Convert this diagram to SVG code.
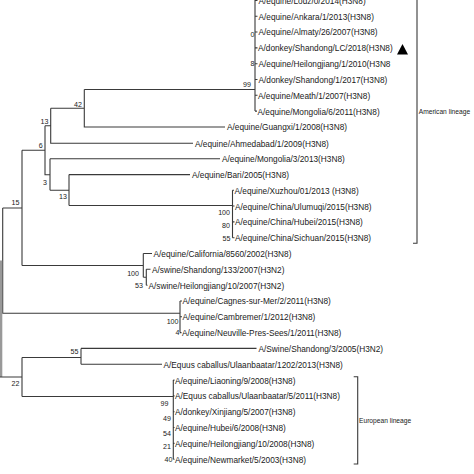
<svg xmlns="http://www.w3.org/2000/svg" width="474" height="474" viewBox="0 0 474 474">
<style>
.e{stroke:#3a3a3a;stroke-width:1.1;fill:none}
.t{font-family:"Liberation Sans",Arial,sans-serif;font-size:9.3px;fill:#1a1a1a}
.n{font-family:"Liberation Sans",Arial,sans-serif;font-size:8px;fill:#222;text-anchor:end}
.b{font-family:"Liberation Sans",Arial,sans-serif;font-size:7.5px;fill:#222}
</style>
<rect width="474" height="474" fill="#fff"/>
<g id="connectors">
<path class="e" d="M255,-1V111.1M255,0.4H257.5M255,16.2H257.5M255,32H257.5M255,47.9H257.5M255,63.7H257.5M255,79.5H257.5M255,95.3H257.5M255,111.1H257"/>
<path class="e" d="M84.3,89.5H255M84.3,89.5V127H225M50.7,108.3H84.3M50.7,108.3V143.3H193M45,125.8H50.7M45,125.8V174.7H50"/>
<path class="e" d="M50,158.8V190.2M50,158.8H220M50,190.2H69M69,174.6V205.5M69,174.6H190M69,205.5H232.5M232.5,190.2V237.7M232.5,190.2H234M232.5,206H234.5M232.5,221.9H234.5M232.5,237.7H234.5"/>
<path class="e" d="M22,150.3H45M22,150.3V265.5M2.7,208H22M22,265.5H143.3M143.3,253.5V277.2M143.3,253.5H152M143.3,277.2H146.3M146.3,269.3V285.2M146.3,269.3H150.5M146.3,285.2H147.5"/>
<path class="e" d="M2.7,208V313.2H180M180,301V332.6M180,301H182M180,316.8H182M180,332.6H181.5"/>
<rect x="0" y="260.5" width="2.3" height="116.5" fill="#999"/>
<path class="e" d="M0,377H22M22,357.5V396.5M22,357.5H81M81,348.4V364.3M81,348.4H256.5M81,364.3H162M22,396.5H173.3M173.3,380.1V459.2M173.3,380.1H174.5M173.3,395.9H174.5M173.3,411.7H174.5M173.3,427.5H174.5M173.3,443.4H174.5M173.3,459.2H174.5"/>
<path class="e" d="M417,-1V243.3H413M353.7,376.7H357.7V464H353.7"/>
</g>
<g id="marker-triangle"><polygon points="402.5,44 397,54.5 408,54.5" fill="#000"/></g>
<g id="leaf-lodz" transform="translate(258.5,3.8) scale(0.89,1)"><text class="t">A/equine/Lodz/0/2014(H3N8)</text></g>
<g id="leaf-ankara" transform="translate(258.5,19.6) scale(0.89,1)"><text class="t">A/equine/Ankara/1/2013(H3N8)</text></g>
<g id="leaf-almaty" transform="translate(258.5,35.4) scale(0.89,1)"><text class="t">A/equine/Almaty/26/2007(H3N8)</text></g>
<g id="leaf-donkey-lc" transform="translate(258,51.3) scale(0.89,1)"><text class="t">A/donkey/Shandong/LC/2018(H3N8)</text></g>
<g id="leaf-heilongjiang-2010" transform="translate(258.5,67.1) scale(0.89,1)"><text class="t">A/equine/Heilongjiang/1/2010(H3N8</text></g>
<g id="leaf-donkey-2017" transform="translate(258.5,82.9) scale(0.89,1)"><text class="t">A/donkey/Shandong/1/2017(H3N8)</text></g>
<g id="leaf-meath" transform="translate(258,98.7) scale(0.89,1)"><text class="t">A/equine/Meath/1/2007(H3N8)</text></g>
<g id="leaf-mongolia-6" transform="translate(257.5,114.5) scale(0.89,1)"><text class="t">A/equine/Mongolia/6/2011(H3N8)</text></g>
<g id="leaf-guangxi" transform="translate(227,130.4) scale(0.89,1)"><text class="t">A/equine/Guangxi/1/2008(H3N8)</text></g>
<g id="leaf-ahmedabad" transform="translate(195,146.6) scale(0.89,1)"><text class="t">A/equine/Ahmedabad/1/2009(H3N8)</text></g>
<g id="leaf-mongolia-3" transform="translate(222,162.2) scale(0.89,1)"><text class="t">A/equine/Mongolia/3/2013(H3N8)</text></g>
<g id="leaf-bari" transform="translate(192,178) scale(0.89,1)"><text class="t">A/equine/Bari/2005(H3N8)</text></g>
<g id="leaf-xuzhou" transform="translate(234.5,193.6) scale(0.89,1)"><text class="t">A/equine/Xuzhou/01/2013 (H3N8)</text></g>
<g id="leaf-ulumuqi" transform="translate(235,209.5) scale(0.89,1)"><text class="t">A/equine/China/Ulumuqi/2015(H3N8)</text></g>
<g id="leaf-hubei-2015" transform="translate(235,225.3) scale(0.89,1)"><text class="t">A/equine/China/Hubei/2015(H3N8)</text></g>
<g id="leaf-sichuan" transform="translate(235,241.1) scale(0.89,1)"><text class="t">A/equine/China/Sichuan/2015(H3N8)</text></g>
<g id="leaf-california" transform="translate(153.5,256.9) scale(0.89,1)"><text class="t">A/equine/California/8560/2002(H3N8)</text></g>
<g id="leaf-swine-shandong-133" transform="translate(152,272.7) scale(0.89,1)"><text class="t">A/swine/Shandong/133/2007(H3N2)</text></g>
<g id="leaf-swine-heilongjiang" transform="translate(148.5,288.6) scale(0.89,1)"><text class="t">A/swine/Heilongjiang/10/2007(H3N2)</text></g>
<g id="leaf-cagnes" transform="translate(182.5,304.4) scale(0.89,1)"><text class="t">A/equine/Cagnes-sur-Mer/2/2011(H3N8)</text></g>
<g id="leaf-cambremer" transform="translate(182.5,320.2) scale(0.89,1)"><text class="t">A/equine/Cambremer/1/2012(H3N8)</text></g>
<g id="leaf-neuville" transform="translate(182,336) scale(0.89,1)"><text class="t">A/equine/Neuville-Pres-Sees/1/2011(H3N8)</text></g>
<g id="leaf-swine-shandong-3" transform="translate(258.5,351.8) scale(0.89,1)"><text class="t">A/Swine/Shandong/3/2005(H3N2)</text></g>
<g id="leaf-ulaanbaatar-1202" transform="translate(163.5,367.7) scale(0.89,1)"><text class="t">A/Equus caballus/Ulaanbaatar/1202/2013(H3N8)</text></g>
<g id="leaf-liaoning" transform="translate(175,383.5) scale(0.89,1)"><text class="t">A/equine/Liaoning/9/2008(H3N8)</text></g>
<g id="leaf-ulaanbaatar-5" transform="translate(175,399.3) scale(0.89,1)"><text class="t">A/Equus caballus/Ulaanbaatar/5/2011(H3N8)</text></g>
<g id="leaf-xinjiang" transform="translate(175,415.1) scale(0.89,1)"><text class="t">A/donkey/Xinjiang/5/2007(H3N8)</text></g>
<g id="leaf-hubei-6" transform="translate(175,430.9) scale(0.89,1)"><text class="t">A/equine/Hubei/6/2008(H3N8)</text></g>
<g id="leaf-heilongjiang-2008" transform="translate(175,446.8) scale(0.89,1)"><text class="t">A/equine/Heilongjiang/10/2008(H3N8)</text></g>
<g id="leaf-newmarket" transform="translate(175,462.6) scale(0.89,1)"><text class="t">A/equine/Newmarket/5/2003(H3N8)</text></g>
<g id="node-0" transform="translate(254.5,36.8) scale(0.89,1)"><text class="n">0</text></g>
<g id="node-8" transform="translate(254.5,65.5) scale(0.89,1)"><text class="n">8</text></g>
<g id="node-99a" transform="translate(251,87.3) scale(0.89,1)"><text class="n">99</text></g>
<g id="node-42" transform="translate(82,106.5) scale(0.89,1)"><text class="n">42</text></g>
<g id="node-13a" transform="translate(48.5,124) scale(0.89,1)"><text class="n">13</text></g>
<g id="node-6" transform="translate(42.7,147.7) scale(0.89,1)"><text class="n">6</text></g>
<g id="node-3" transform="translate(47,185) scale(0.89,1)"><text class="n">3</text></g>
<g id="node-13b" transform="translate(67,199) scale(0.89,1)"><text class="n">13</text></g>
<g id="node-15" transform="translate(19.5,205) scale(0.89,1)"><text class="n">15</text></g>
<g id="node-100a" transform="translate(230,214.5) scale(0.89,1)"><text class="n">100</text></g>
<g id="node-80" transform="translate(230,228) scale(0.89,1)"><text class="n">80</text></g>
<g id="node-55a" transform="translate(230.5,240.5) scale(0.89,1)"><text class="n">55</text></g>
<g id="node-100b" transform="translate(139,276) scale(0.89,1)"><text class="n">100</text></g>
<g id="node-53" transform="translate(143,287.5) scale(0.89,1)"><text class="n">53</text></g>
<g id="node-100c" transform="translate(178.5,323.5) scale(0.89,1)"><text class="n">100</text></g>
<g id="node-4" transform="translate(179.5,334.5) scale(0.89,1)"><text class="n">4</text></g>
<g id="node-55b" transform="translate(78.5,354) scale(0.89,1)"><text class="n">55</text></g>
<g id="node-22" transform="translate(19.5,386) scale(0.89,1)"><text class="n">22</text></g>
<g id="node-99b" transform="translate(168.5,405.5) scale(0.89,1)"><text class="n">99</text></g>
<g id="node-49" transform="translate(171,420.5) scale(0.89,1)"><text class="n">49</text></g>
<g id="node-54" transform="translate(171,436) scale(0.89,1)"><text class="n">54</text></g>
<g id="node-21" transform="translate(171,449) scale(0.89,1)"><text class="n">21</text></g>
<g id="node-40" transform="translate(172.5,462) scale(0.89,1)"><text class="n">40</text></g>
<g id="bracket-american" transform="translate(418.7,114) scale(0.89,1)"><text class="b">American lineage</text></g>
<g id="bracket-european" transform="translate(359,422.5) scale(0.89,1)"><text class="b">European lineage</text></g>
</svg>
